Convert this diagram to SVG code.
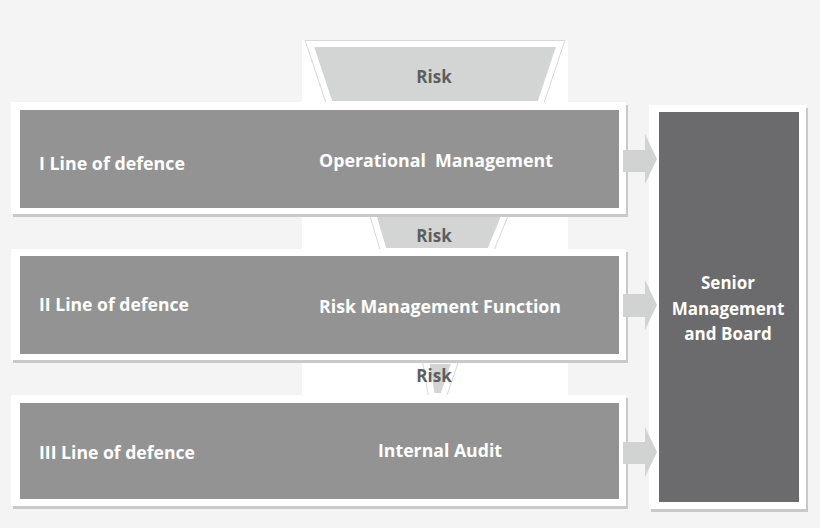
<svg xmlns="http://www.w3.org/2000/svg" width="820" height="528" viewBox="0 0 820 528">
<defs>
<style>
.frame{fill:#ffffff}
.shadow{fill:#c9c9ca}
.box{fill:#939394}
.senior{fill:#6b6b6d}
.fout{fill:none;stroke:#d9d9d9;stroke-width:8;stroke-linejoin:miter}
.funnel{fill:#d3d4d4;stroke:#ffffff;stroke-width:6;stroke-linejoin:miter}
.arrow{fill:#d1d2d2}
.lbl{font-family:"Open Sans","Liberation Sans",sans-serif;font-weight:bold;font-size:17px;fill:#ffffff}
.risk{font-family:"Open Sans","Liberation Sans",sans-serif;font-weight:bold;font-size:17px;fill:#5e5e60;text-anchor:middle}
</style>
</defs>
<rect x="0" y="0" width="820" height="528" fill="#f4f4f4"/>
<rect x="302" y="40" width="266" height="361" fill="#ffffff"/>

<g id="funnel1">
<polygon class="fout" points="310,44 560,44 540,104 330,104"/>
<polygon class="funnel" points="310,44 560,44 540,104 330,104"/>
<text class="risk" x="434" y="83">Risk</text>
</g>
<g id="funnel2">
<polygon class="fout" points="373,214 505,214 490,251 384,251"/>
<polygon class="funnel" points="373,214 505,214 490,251 384,251"/>
<text class="risk" x="434" y="242">Risk</text>
</g>
<g id="funnel3">
<polygon class="fout" points="426,361 455,361 443,396 432,396"/>
<polygon class="funnel" points="426,361 455,361 443,396 432,396"/>
<text class="risk" x="434" y="382">Risk</text>
</g>

<g id="box1">
<rect class="shadow" x="13" y="105" width="615" height="112"/>
<rect class="frame" x="11" y="102" width="615" height="112"/>
<rect class="box" x="20" y="110" width="599" height="98"/>
<text class="lbl" x="39" y="170" textLength="146" lengthAdjust="spacingAndGlyphs">I Line of defence</text>
<text class="lbl" x="319" y="167" textLength="234" lengthAdjust="spacingAndGlyphs" xml:space="preserve">Operational  Management</text>
</g>

<g id="box2">
<rect class="shadow" x="13" y="252" width="615" height="111"/>
<rect class="frame" x="11" y="249" width="615" height="111"/>
<rect class="box" x="20" y="256" width="599" height="98"/>
<text class="lbl" x="39" y="311" textLength="150" lengthAdjust="spacingAndGlyphs">II Line of defence</text>
<text class="lbl" x="319" y="313" textLength="242" lengthAdjust="spacingAndGlyphs">Risk Management Function</text>
</g>

<g id="box3">
<rect class="shadow" x="13" y="398" width="615" height="111"/>
<rect class="frame" x="11" y="395" width="615" height="111"/>
<rect class="box" x="20" y="403" width="599" height="96"/>
<text class="lbl" x="39" y="459" textLength="156" lengthAdjust="spacingAndGlyphs">III Line of defence</text>
<text class="lbl" x="378" y="457" textLength="124" lengthAdjust="spacingAndGlyphs">Internal Audit</text>
</g>

<g id="senior">
<rect class="shadow" x="651" y="108" width="157" height="404"/>
<rect class="frame" x="649" y="105" width="157" height="404"/>
<rect class="senior" x="659" y="112" width="140" height="390"/>
<text class="lbl" x="728" y="289" text-anchor="middle">Senior</text>
<text class="lbl" x="728" y="315" text-anchor="middle">Management</text>
<text class="lbl" x="728" y="340" text-anchor="middle">and Board</text>
</g>

<g id="connectors">
<polygon class="arrow" points="623,150 645,150 645,134 657,159 645,184 645,172 623,172"/>
<polygon class="arrow" points="623,294 645,294 645,280 657,305 645,330 645,317 623,317"/>
<polygon class="arrow" points="623,442 645,442 645,427 657,452 645,477 645,464 623,464"/>
</g>
</svg>
